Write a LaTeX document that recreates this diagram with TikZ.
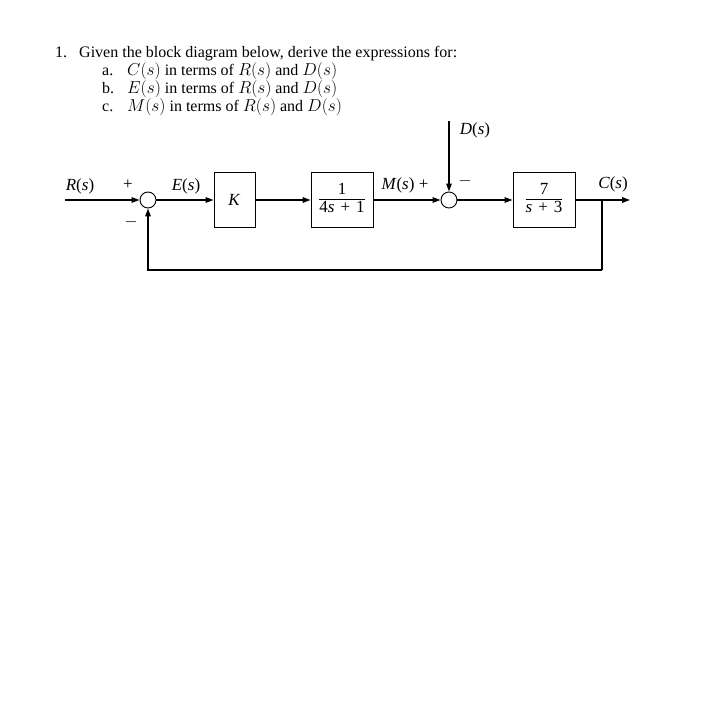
\documentclass[tikz,border=0pt]{standalone}
\usepackage{fontspec}
\usepackage{amsmath}
\setmainfont{Liberation Serif}
\usetikzlibrary{arrows.meta}
\newcommand{\blkfrac}[2]{\begin{tabular}{@{}c@{}}#1\\[-1pt]\hline\rule{0pt}{13pt}#2\end{tabular}}
\begin{document}
\begin{tikzpicture}[x=1pt,y=-1pt,
  qtext/.style={anchor=base west,inner sep=0pt,font=\fontsize{16}{18}\selectfont},
  lbl/.style={inner sep=0pt,font=\fontsize{17}{19}\selectfont},
  blk/.style={draw,line width=0.9pt,minimum height=55pt,inner sep=0pt,font=\fontsize{17}{17}\selectfont},
  sumj/.style={draw,circle,line width=0.9pt,minimum size=16pt,inner sep=0pt},
  sig/.style={line width=1.5pt,-{Triangle[length=8pt,width=5.5pt]}},
  wire/.style={line width=1.5pt}]
\useasboundingbox (0,0) rectangle (720,720);
\fill[white] (0,0) rectangle (720,720);
% question text
\node[qtext] (n1) at (55,57) {1.};
\node[qtext] (t1) at (79,57) {Given the block diagram below, derive the expressions for:};
\node[qtext] (la) at (102,75) {a.};
\node[qtext] (ta) at (127,75) {$C(s)$ in terms of $R(s)$ and $D(s)$};
\node[qtext] (lb) at (102,93) {b.};
\node[qtext] (tb) at (127,93) {$E(s)$ in terms of $R(s)$ and $D(s)$};
\node[qtext] (lc) at (102,111.5) {c.};
\node[qtext] (tc) at (127,111.5) {$M(s)$ in terms of $R(s)$ and $D(s)$};
% blocks
\node[sumj] (s1) at (148,200) {};
\node[blk,minimum width=41pt] (K) at (234.5,200) {\textit{K}};
\node[blk,minimum width=62pt] (G1) at (342,200) {\blkfrac{1}{4\textit{s}\hspace{6pt}+\hspace{6pt}1}};
\node[sumj] (s2) at (449,200) {};
\node[blk,minimum width=62pt] (G2) at (544,200) {\blkfrac{7}{\textit{s}\hspace{6pt}+\hspace{6pt}3}};
\coordinate (in) at (65,200);
\coordinate (out) at (630,200);
\coordinate (br) at (602,200);
\coordinate (din) at (449,121);
\coordinate (fb) at (602,270);
% connectors
\draw[sig] (in) -- (s1.west);
\draw[sig] (s1.east) -- (K.west);
\draw[sig] (K.east) -- (G1.west);
\draw[sig] (G1.east) -- (s2.west);
\draw[sig] (din) -- (s2.north);
\draw[sig] (s2.east) -- (G2.west);
\draw[sig] (G2.east) -- (out);
\draw[wire] (br) -- (fb);
\draw[sig] (fb) -| (s1.south);
% labels
\node[lbl] (lR) at (80,186) {\textit{R}(\textit{s})};
\node[lbl] (lp1) at (128,185) {+};
\node[lbl] (lm1) at (131,222) {$-$};
\node[lbl] (lE) at (186,186) {\textit{E}(\textit{s})};
\node[lbl] (lM) at (405,185) {\textit{M}(\textit{s}) +};
\node[lbl] (lD) at (475,130) {\textit{D}(\textit{s})};
\node[lbl] (lm2) at (465,181) {$-$};
\node[lbl] (lC) at (613,184) {\textit{C}(\textit{s})};
\end{tikzpicture}
\end{document}
